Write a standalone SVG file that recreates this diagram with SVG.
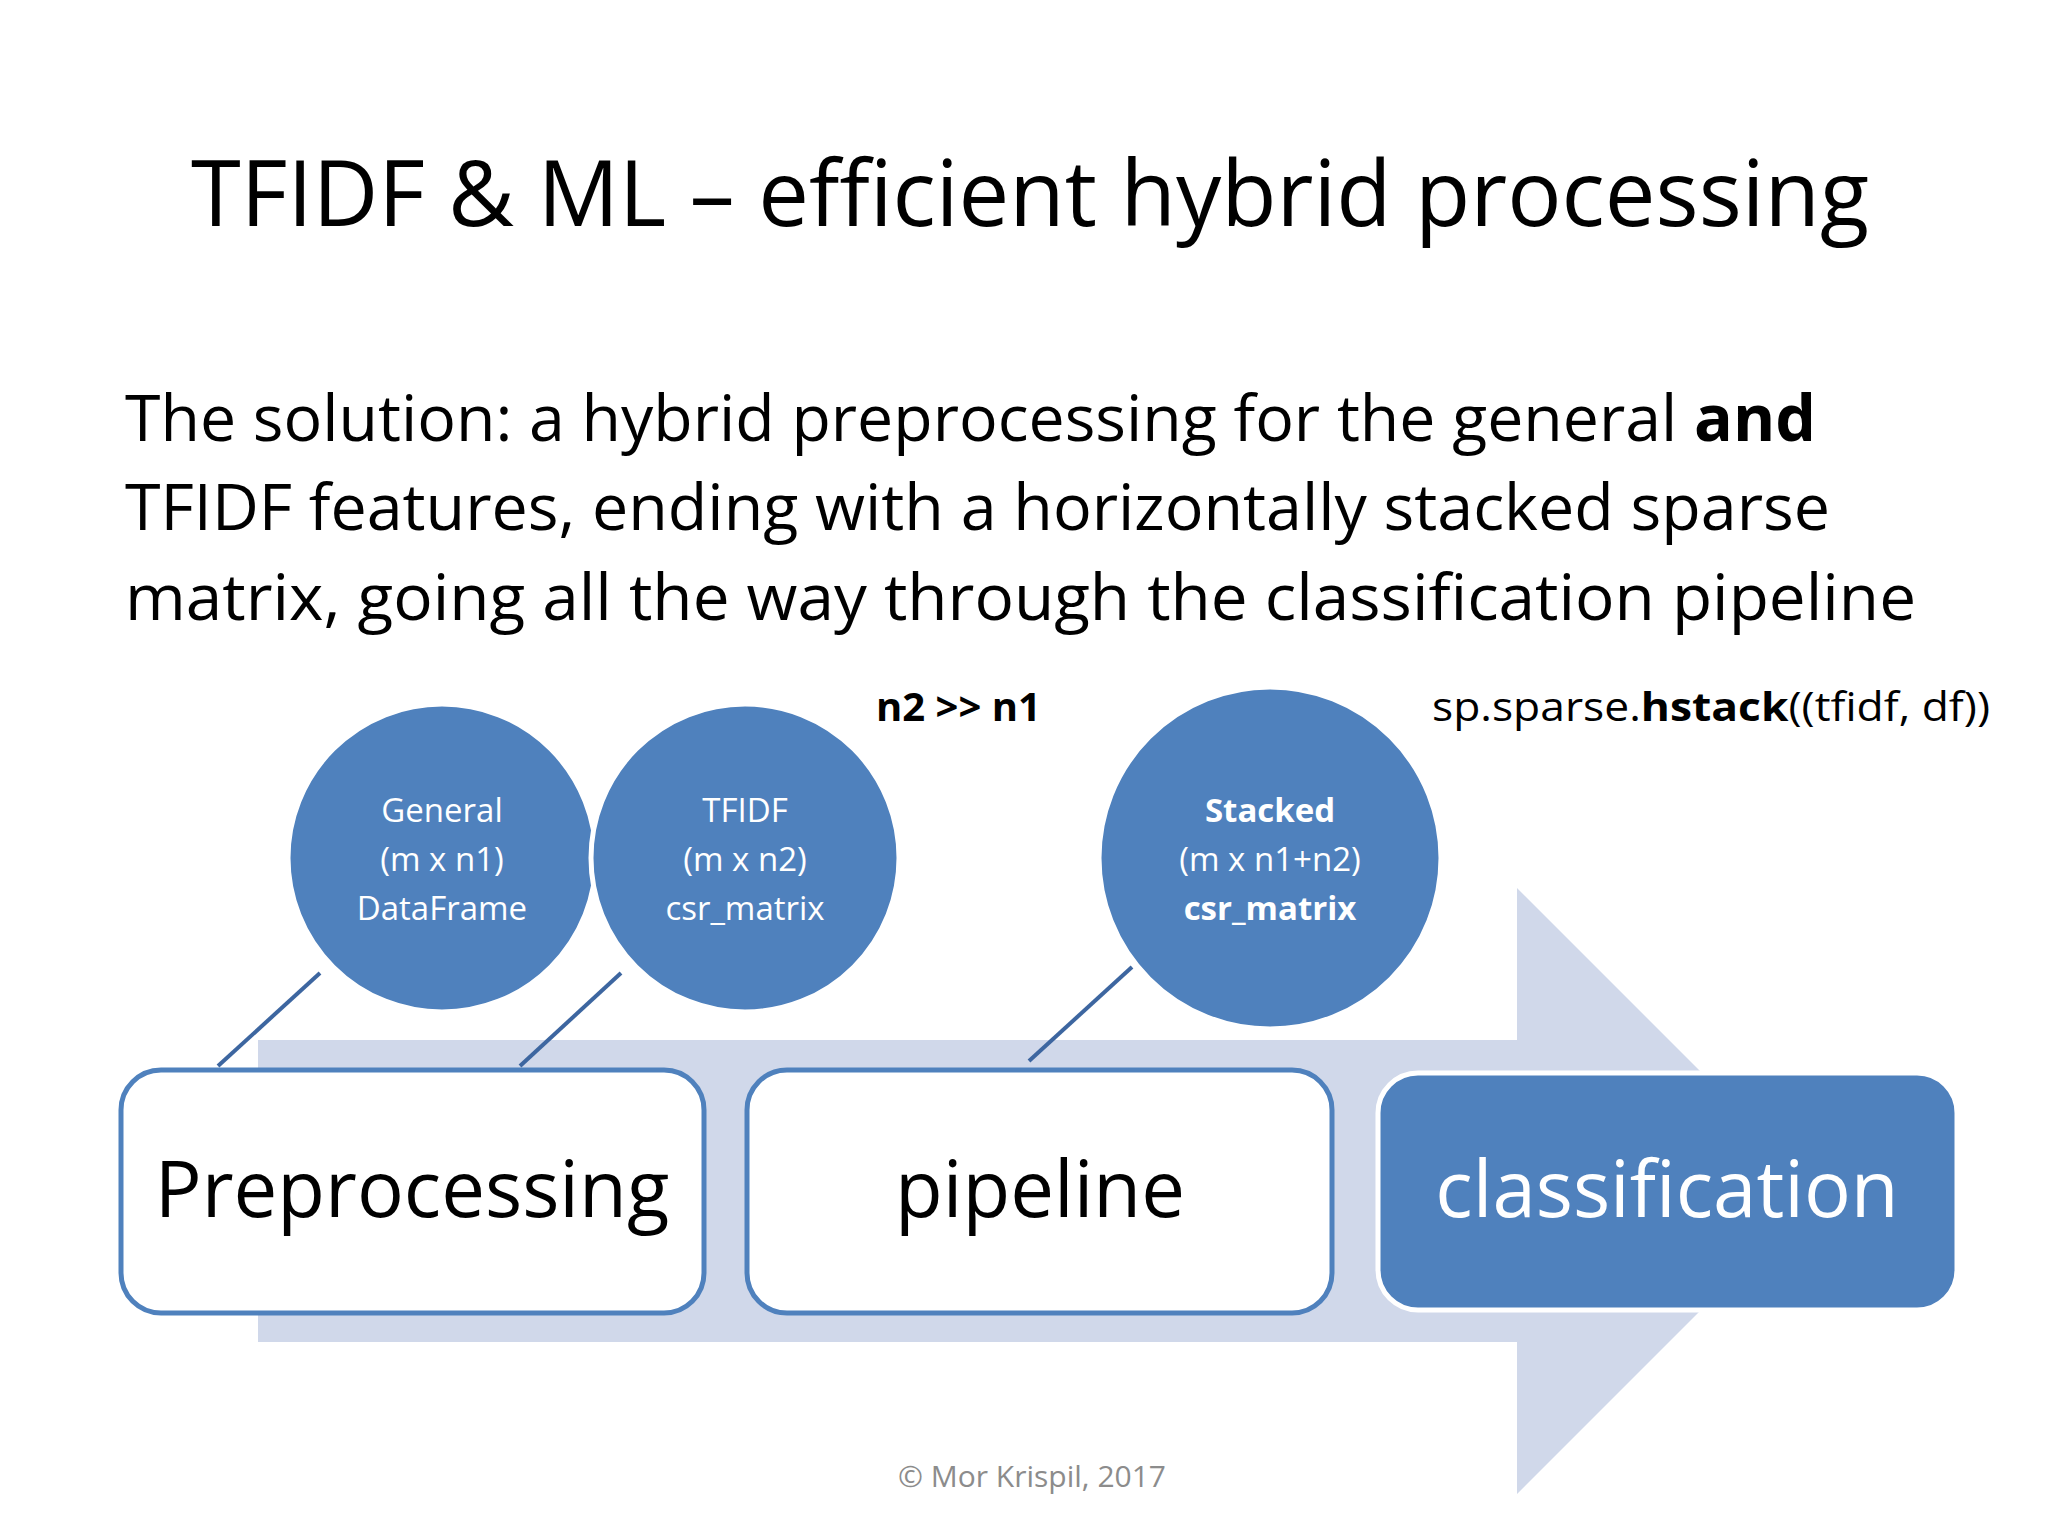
<svg xmlns="http://www.w3.org/2000/svg" width="2048" height="1536" viewBox="0 0 2048 1536">
<style>
text{font-family:"Open Sans","Noto Sans",sans-serif}
.box{fill:#fff;stroke:#4f81bd;stroke-width:5}
.circ{fill:#4f81bd;stroke:#fff;stroke-width:5}
.ct{fill:#fff;font-size:33px;text-anchor:middle}
.conn{stroke:#3d66a0;stroke-width:4}
.bt{font-size:78px;text-anchor:middle}
</style>
<rect width="2048" height="1536" fill="#fff"/>
<text x="1030" y="226" font-size="92" text-anchor="middle" textLength="1678" lengthAdjust="spacingAndGlyphs">TFIDF &amp; ML – efficient hybrid processing</text>
<g font-size="64">
<text x="125" y="441" textLength="1691" lengthAdjust="spacingAndGlyphs">The solution: a hybrid preprocessing for the general <tspan font-weight="bold">and</tspan></text>
<text x="125" y="530" textLength="1705" lengthAdjust="spacingAndGlyphs">TFIDF features, ending with a horizontally stacked sparse</text>
<text x="125" y="620" textLength="1791" lengthAdjust="spacingAndGlyphs">matrix,  going all the way through the classification pipeline</text>
</g>
<g id="arrow"><polygon points="258,1040 1517,1040 1517,888 1820,1191 1517,1494 1517,1342 258,1342" fill="#d0d8ea"/></g>
<g id="preprocessing"><rect class="box" x="121" y="1070" width="583" height="243" rx="40"/><text class="bt" x="412" y="1217">Preprocessing</text></g>
<g id="pipeline"><rect class="box" x="747" y="1070" width="585" height="243" rx="40"/><text class="bt" x="1040" y="1217">pipeline</text></g>
<g id="classification"><rect x="1378" y="1073" width="579" height="237" rx="40" fill="#4f81bd" stroke="#fff" stroke-width="5"/><text class="bt" x="1667" y="1217" fill="#fff">classification</text></g>
<g id="connectors">
<line class="conn" x1="320" y1="973" x2="218" y2="1066"/>
<line class="conn" x1="621" y1="973" x2="520" y2="1066"/>
<line class="conn" x1="1132" y1="967" x2="1029" y2="1061"/>
</g>
<g id="general"><circle class="circ" cx="442" cy="858" r="154"/><text class="ct" x="442" y="822">General</text><text class="ct" x="442" y="871">(m x n1)</text><text class="ct" x="442" y="920">DataFrame</text></g>
<g id="tfidf"><circle class="circ" cx="745" cy="858" r="154"/><text class="ct" x="745" y="822">TFIDF</text><text class="ct" x="745" y="871">(m x n2)</text><text class="ct" x="745" y="920">csr_matrix</text></g>
<g id="stacked"><circle class="circ" cx="1270" cy="858" r="171"/><text class="ct" x="1270" y="822" font-weight="bold">Stacked</text><text class="ct" x="1270" y="871">(m x n1+n2)</text><text class="ct" x="1270" y="920" font-weight="bold">csr_matrix</text></g>
<text x="876" y="721" font-size="40" font-weight="bold">n2 &gt;&gt; n1</text>
<text x="1432" y="721" font-size="40" textLength="558" lengthAdjust="spacingAndGlyphs">sp.sparse.<tspan font-weight="bold">hstack</tspan>((tfidf, df))</text>
<text x="1032" y="1487" font-size="30" fill="#8c8c8c" text-anchor="middle">© Mor Krispil, 2017</text>
</svg>
